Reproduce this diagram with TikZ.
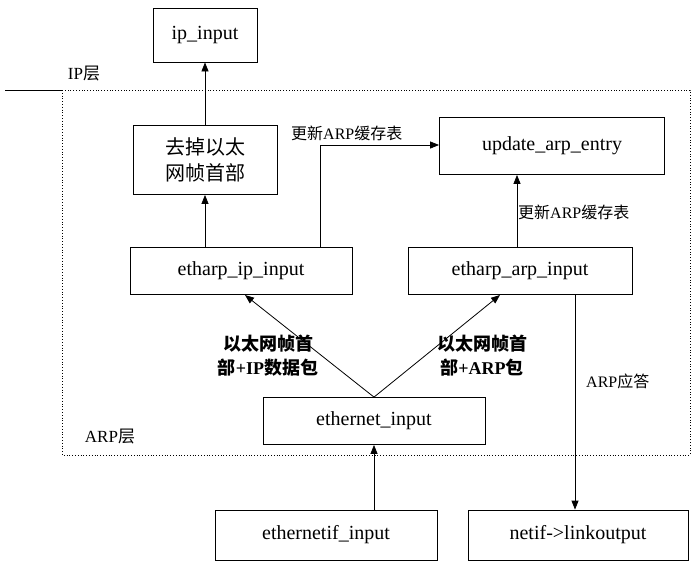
\documentclass[tikz,border=0pt]{standalone}
\usepackage{fontspec}
\setmainfont{Liberation Serif}
\newfontfamily\cjk{Noto Sans CJK SC}
\usetikzlibrary{arrows.meta}
\begin{document}
\begin{tikzpicture}[x=1pt,y=-1pt,
  box/.style={draw,thick,minimum height=47pt,inner sep=2pt,font=\fontsize{20}{22}\selectfont},
  arr/.style={thick,-{Triangle[length=9pt,width=7pt]}},
  lab/.style={font=\fontsize{16}{19}\selectfont,inner sep=1pt},
  blab/.style={font=\fontsize{18}{24}\bfseries\selectfont,align=center,inner sep=1pt}]
\useasboundingbox (0,0) rectangle (700,573);
\draw[thick,dotted] (62,90) rectangle (690,455);
\draw[thick] (5,90) -- (62,90);
\node[lab,font=\fontsize{17}{20}\selectfont] (iplbl) at (84,74) {IP{\cjk 层}};
\node[lab,font=\fontsize{17}{20}\selectfont] (arplbl) at (110,437) {ARP{\cjk 层}};
\node[box,minimum width=104pt,minimum height=54pt] (ip) at (205,35) {ip\_input};
\node[box,minimum width=144pt,minimum height=69pt,align=center,font=\fontsize{20}{26}\cjk\selectfont] (strip) at (205,160) {去掉以太\\网帧首部};
\node[box,minimum width=225pt,minimum height=57pt] (upd) at (552,146) {update\_arp\_entry};
\node[box,minimum width=222pt] (eip) at (241,271) {etharp\_ip\_input};
\node[box,minimum width=224pt] (earp) at (520,271) {etharp\_arp\_input};
\node[box,minimum width=222pt] (eth) at (374,421) {ethernet\_input};
\node[box,minimum width=222pt,minimum height=50pt] (efi) at (326,535) {ethernetif\_input};
\node[box,minimum width=220pt,minimum height=50pt] (nlo) at (578,535) {netif->linkoutput};
\draw[arr] (strip.north) -- (ip.south);
\draw[arr] (eip.north -| strip.south) -- (strip.south);
\coordinate (c1) at (320,145);
\draw[arr] (eip.north -| c1) -- (c1) -- (upd.west |- c1);
\node[lab,anchor=south west] (l1) at (290,142) {{\cjk 更新}ARP{\cjk 缓存表}};
\draw[arr] (earp.north -| 517,0) -- (upd.south -| 517,0);
\node[lab,anchor=west] (l2) at (517,212) {{\cjk 更新}ARP{\cjk 缓存表}};
\draw[arr] (eth.north) -- (245,295);
\draw[arr] (eth.north) -- (500,295);
\node[blab] (l3) at (268,356) {{\cjk 以太网帧首}\\{\cjk 部}+IP{\cjk 数据包}};
\node[blab] (l4) at (482,356) {{\cjk 以太网帧首}\\{\cjk 部}+ARP{\cjk 包}};
\draw[arr] (efi.north -| eth.south) -- (eth.south);
\draw[arr] (earp.south -| 575,0) -- (nlo.north -| 575,0);
\node[lab,anchor=west] (l5) at (585,381) {ARP{\cjk 应答}};
\end{tikzpicture}
\end{document}
